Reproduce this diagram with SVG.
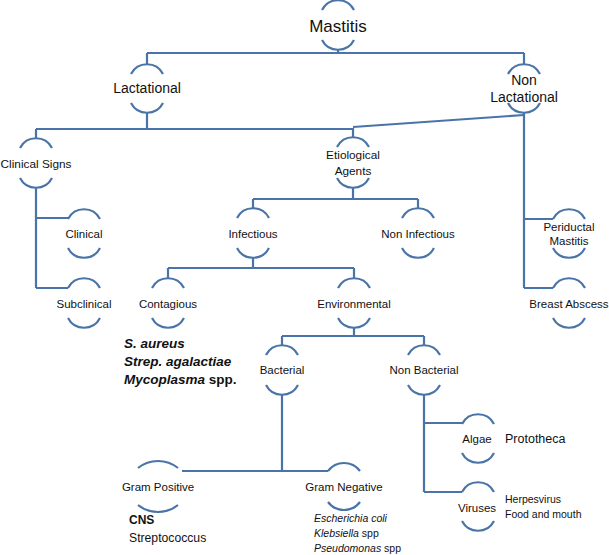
<svg xmlns="http://www.w3.org/2000/svg" width="609" height="555" viewBox="0 0 609 555">
<style>
.a{fill:none;stroke:#4A74A8;stroke-width:2.2}
.c{fill:none;stroke:#4A74A8;stroke-width:2.2}
text{font-family:"Liberation Sans",Arial,sans-serif;font-size:11.5px;fill:#111;text-anchor:middle}
.l{text-anchor:start}
.b{font-weight:bold}
.i{font-style:italic}
</style>
<rect width="609" height="555" fill="#fff"/>
<g id="connectors">
<path class="c" d="M338,50V53 M147,53H524 M147,53V64 M524,53V64"/>
<path class="c" d="M147,113V129 M36,129H353 M36,129V138 M353,128V137"/>
<path class="c" d="M353,127L524,115" stroke-width="1.6"/>
<path class="c" d="M524,113V288 M524,219H553 M524,288H553"/>
<path class="c" d="M36,188V288 M36,218H68 M36,288H68"/>
<path class="c" d="M353,188V199 M253,199H418 M253,199V208 M418,199V208"/>
<path class="c" d="M253,258V268 M168,268H354 M168,268V278 M354,268V278"/>
<path class="c" d="M354,328V336 M282,336H424 M282,336V345 M424,336V345"/>
<path class="c" d="M282,395V471 M182,471H328"/>
<path class="c" d="M424,395V492 M424,423H462 M424,492H462"/>
</g>
<g id="mastitis">
<path class="a" d="M322,10A18,18 0 0 1 354,10 M322,40A18,18 0 0 0 354,40"/>
<text x="338" y="32" style="font-size:17px">Mastitis</text>
</g>
<g id="lactational">
<path class="a" d="M131,74A18,18 0 0 1 163,74 M131,103A18,18 0 0 0 163,103"/>
<text x="147" y="93" style="font-size:14px">Lactational</text>
</g>
<g id="non-lactational">
<path class="a" d="M508,74A18,18 0 0 1 540,74 M508,103A18,18 0 0 0 540,103"/>
<text x="524" y="85" style="font-size:14px">Non</text>
<text x="524" y="102" style="font-size:14px">Lactational</text>
</g>
<g id="clinical-signs">
<path class="a" d="M20,148A18,18 0 0 1 52,148 M20,178A18,18 0 0 0 52,178"/>
<text x="36" y="168" style="font-size:11.8px">Clinical Signs</text>
</g>
<g id="etiological-agents">
<path class="a" d="M337,147A18,18 0 0 1 369,147 M337,178A18,18 0 0 0 369,178"/>
<text x="353" y="159" style="font-size:11.8px">Etiological</text>
<text x="353" y="175" style="font-size:11.8px">Agents</text>
</g>
<g id="periductal-mastitis">
<path class="a" d="M553,219A18,18 0 0 1 585,219 M553,248A18,18 0 0 0 585,248"/>
<text x="569" y="231">Periductal</text>
<text x="569" y="245">Mastitis</text>
</g>
<g id="breast-abscess">
<path class="a" d="M553,288A18,18 0 0 1 585,288 M553,318A18,18 0 0 0 585,318"/>
<text x="569" y="308">Breast Abscess</text>
</g>
<g id="clinical">
<path class="a" d="M68,219A18,18 0 0 1 100,219 M68,248A18,18 0 0 0 100,248"/>
<text x="84" y="238">Clinical</text>
</g>
<g id="subclinical">
<path class="a" d="M68,288A18,18 0 0 1 100,288 M68,318A18,18 0 0 0 100,318"/>
<text x="84" y="308">Subclinical</text>
</g>
<g id="infectious">
<path class="a" d="M237,218A18,18 0 0 1 269,218 M237,248A18,18 0 0 0 269,248"/>
<text x="253" y="238">Infectious</text>
</g>
<g id="non-infectious">
<path class="a" d="M402,218A18,18 0 0 1 434,218 M402,248A18,18 0 0 0 434,248"/>
<text x="418" y="238">Non Infectious</text>
</g>
<g id="contagious">
<path class="a" d="M152,288A18,18 0 0 1 184,288 M152,318A18,18 0 0 0 184,318"/>
<text x="168" y="308">Contagious</text>
<text class="l b i" x="124" y="348" style="font-size:13.5px">S. aureus</text>
<text class="l b i" x="124" y="366" style="font-size:13.5px">Strep. agalactiae</text>
<text class="l b" x="124" y="384" style="font-size:13.5px"><tspan class="i">Mycoplasma</tspan> spp.</text>
</g>
<g id="environmental">
<path class="a" d="M338,288A18,18 0 0 1 370,288 M338,318A18,18 0 0 0 370,318"/>
<text x="354" y="308">Environmental</text>
</g>
<g id="bacterial">
<path class="a" d="M266,355A18,18 0 0 1 298,355 M266,385A18,18 0 0 0 298,385"/>
<text x="282" y="374">Bacterial</text>
</g>
<g id="non-bacterial">
<path class="a" d="M408,355A18,18 0 0 1 440,355 M408,385A18,18 0 0 0 440,385"/>
<text x="424" y="374">Non Bacterial</text>
</g>
<g id="algae">
<path class="a" d="M462,424A18,18 0 0 1 494,424 M462,453A18,18 0 0 0 494,453"/>
<text x="477" y="443">Algae</text>
<text class="l" x="505" y="443" style="font-size:12.5px">Prototheca</text>
</g>
<g id="viruses">
<path class="a" d="M462,492A18,18 0 0 1 494,492 M462,521A18,18 0 0 0 494,521"/>
<text x="477" y="512">Viruses</text>
<text class="l" x="505" y="503" style="font-size:10.5px">Herpesvirus</text>
<text class="l" x="505" y="518" style="font-size:10.5px">Food and mouth</text>
</g>
<g id="gram-positive">
<path class="a" d="M138,468A32,32 0 0 1 178,468 M138,505A32,32 0 0 0 178,505"/>
<text x="158" y="491">Gram Positive</text>
<text class="l b" x="129" y="524" style="font-size:12px">CNS</text>
<text class="l" x="129" y="542" style="font-size:12.2px">Streptococcus</text>
</g>
<g id="gram-negative">
<path class="a" d="M328,471A20,20 0 0 1 360,471 M328,502A20,20 0 0 0 360,502"/>
<text x="344" y="491">Gram Negative</text>
<text class="l i" x="314" y="522" style="font-size:10.5px">Escherichia coli</text>
<text class="l" x="314" y="537" style="font-size:10.5px"><tspan class="i">Klebsiella</tspan> spp</text>
<text class="l" x="314" y="552" style="font-size:10.5px"><tspan class="i">Pseudomonas</tspan> spp</text>
</g>
</svg>
